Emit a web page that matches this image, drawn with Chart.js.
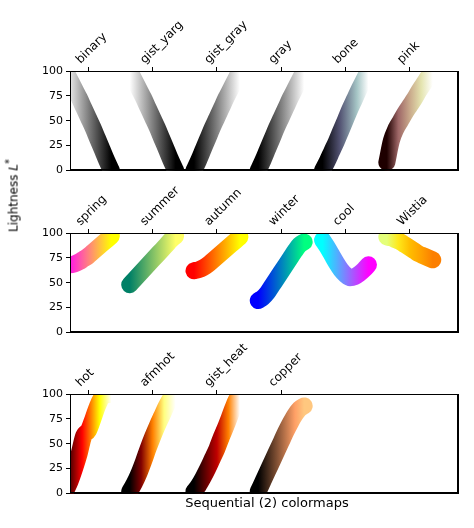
<!DOCTYPE html>
<html><head><meta charset="utf-8">
<script src="https://cdn.jsdelivr.net/npm/chart.js@4"></script>
<style>
body{margin:0;background:#fff;width:474px;height:528px;position:relative;overflow:hidden;font-family:"DejaVu Sans",sans-serif}
.p{position:absolute;left:0;width:474px;height:180px}
#yl{position:absolute;left:-38px;top:187px;transform:rotate(-90deg);font-size:12px;width:100px;text-align:center}
#xl{position:absolute;left:0;width:474px;top:495px;text-align:center;font-size:13px;padding-left:60px;box-sizing:border-box}
</style></head><body>
<div class="p" style="top:0"><canvas id="c0"></canvas></div>
<div class="p" style="top:162px"><canvas id="c1"></canvas></div>
<div class="p" style="top:323px"><canvas id="c2"></canvas></div>
<div id="yl">Lightness <i>L</i><sup>*</sup></div>
<div id="xl">Sequential (2) colormaps</div>
<script>
const T=[0,0.1,0.2,0.3,0.4,0.5,0.6,0.7,0.8,0.9,1];
const panel1=['binary','gist_yarg','gist_gray','gray','bone','pink'];
const panel2=['spring','summer','autumn','winter','cool','Wistia'];
const panel3=['hot','afmhot','gist_heat','copper'];
const L={
binary:[100,91,82,73,63,53,43,32,21,10,0],
gist_yarg:[100,91,82,73,63,53,43,32,21,10,0],
gist_gray:[0,10,21,32,43,53,63,73,82,91,100],
gray:[0,10,21,32,43,53,63,73,82,91,100],
bone:[0,9,19,29,40,51,62,72,82,91,100],
pink:[8,30,42,50,58,65,72,80,87,94,100],
spring:[68,68,69,71,74,77,81,85,89,93,97],
summer:[48,53,58,63,68,73,78,83,88,93,97],
autumn:[62,63,65,68,72,76,80,84,88,92,96],
winter:[32,35,40,47,54,61,68,75,82,88,91],
cool:[93,86,78,70,63,58,55,56,59,63,68],
Wistia:[96,95,93,91,88,85,82,79,77,75,73],
hot:[2,12,25,40,58,63,75,88,97,99,100],
afmhot:[2,10,20,32,45,57,68,78,88,96,100],
gist_heat:[2,8,16,25,35,45,57,68,80,92,100],
copper:[2,12,22,32,42,52,62,71,79,85,88]
};
const CM={
binary:[[0,'#fff'],[1,'#000']],
gist_yarg:[[0,'#fff'],[1,'#000']],
gist_gray:[[0,'#000'],[1,'#fff']],
gray:[[0,'#000'],[1,'#fff']],
bone:[[0,'#000'],[0.375,'#525272'],[0.75,'#a6c6c6'],[1,'#fff']],
pink:[[0,'#1e0000'],[0.25,'#9e6767'],[0.5,'#c9a98b'],[0.75,'#e4e4af'],[1,'#fff']],
spring:[[0,'#ff00ff'],[1,'#ffff00']],
summer:[[0,'#008066'],[1,'#ffff66']],
autumn:[[0,'#ff0000'],[1,'#ffff00']],
winter:[[0,'#0000ff'],[1,'#00ff80']],
cool:[[0,'#00ffff'],[1,'#ff00ff']],
Wistia:[[0,'#e4ff7a'],[0.25,'#ffe81a'],[0.5,'#ffbd00'],[0.75,'#ffa000'],[1,'#fc7f00']],
hot:[[0,'#0b0000'],[0.365,'#ff0000'],[0.746,'#ffff00'],[1,'#ffffff']],
afmhot:[[0,'#000'],[0.25,'#800000'],[0.5,'#ff8000'],[0.75,'#ffff80'],[1,'#fff']],
gist_heat:[[0,'#000'],[0.5,'#bf0000'],[0.75,'#ff8000'],[1,'#fff']],
copper:[[0,'#000'],[0.5,'#9f6340'],[0.8,'#ffa066'],[1,'#ffc77f']]
};
const DC=1.4;
const frame={id:'frame',afterDatasetsDraw(ch){const a=ch.chartArea,c=ch.ctx;c.save();c.strokeStyle='#000';c.lineWidth=1;
  c.strokeRect(Math.round(a.left)+0.5,Math.round(a.top)+0.5,Math.round(a.right-a.left)-1,Math.round(a.bottom-a.top)-1);c.restore();}};
function make(id,names){
  const ds=names.map((n,j)=>({
    data:L[n].map((v,i)=>({x:j*DC+T[i],y:v})),
    borderWidth:17,borderCapStyle:'round',borderJoinStyle:'round',pointRadius:0,
    cubicInterpolationMode:'monotone',clip:0,
    borderColor:(c)=>{const ch=c.chart;if(!ch.chartArea)return '#000';const xs=ch.scales.x;
      const g=ch.ctx.createLinearGradient(xs.getPixelForValue(j*DC),0,xs.getPixelForValue(j*DC+1),0);
      CM[n].forEach(s=>g.addColorStop(s[0],s[1]));return g;}
  }));
  new Chart(document.getElementById(id),{type:'line',data:{datasets:ds},plugins:[frame],
    options:{responsive:false,animation:false,devicePixelRatio:1,layout:{padding:0},
      plugins:{legend:{display:false},tooltip:{enabled:false}},
      scales:{
        x:{type:'linear',position:'top',min:0.1,max:8.55,
          afterBuildTicks:s=>{s.ticks=names.map((n,j)=>({value:j*DC+0.5}));},
          afterFit:s=>{s.height=71;},
          ticks:{callback:(v,i)=>names[i],minRotation:45,maxRotation:45,color:'#000',font:{family:'DejaVu Sans',size:12},padding:0},
          grid:{drawOnChartArea:false,tickLength:4,color:'#000'},border:{color:'#000'}},
        x2:{type:'linear',position:'bottom',min:0,max:1,afterFit:s=>{s.height=9;},ticks:{display:false},grid:{display:false},border:{color:'#000'}},
        y:{min:0,max:100,afterFit:s=>{s.width=70;},ticks:{stepSize:25,color:'#000',font:{family:'DejaVu Sans',size:11},padding:3},
          grid:{drawOnChartArea:false,tickLength:4,color:'#000'},border:{color:'#000'}},
        y2:{position:'right',min:0,max:1,afterFit:s=>{s.width=16;},ticks:{display:false},grid:{display:false},border:{color:'#000'}}
      }}});
}
['c0','c1','c2'].forEach(id=>{const c=document.getElementById(id);c.width=474;c.height=180;});
make('c0',panel1);make('c1',panel2);make('c2',panel3);
</script></body></html>
